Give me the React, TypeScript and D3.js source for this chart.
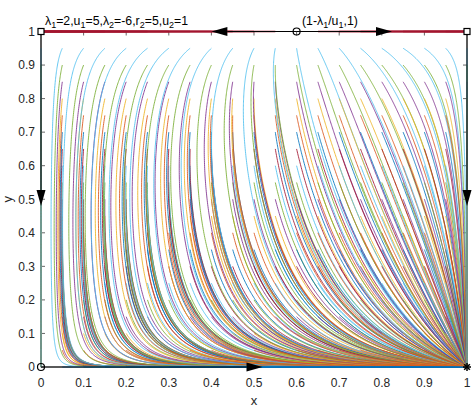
import React, { useMemo } from "react";
import * as d3 from "d3";

// model parameters (from title)
const LAMBDA1 = 2;
const U1 = 5;
const LAMBDA2 = -6;
const R2 = 5;
const U2 = 1;

// initial conditions grid (0:0.05:1)
const X0 = [0, 0.05, 0.1, 0.15, 0.2, 0.25, 0.3, 0.35, 0.4, 0.45, 0.5, 0.55, 0.6, 0.65, 0.7, 0.75, 0.8, 0.85, 0.9, 0.95, 1];
const Y0 = [0, 0.05, 0.1, 0.15, 0.2, 0.25, 0.3, 0.35, 0.4, 0.45, 0.5, 0.55, 0.6, 0.65, 0.7, 0.75, 0.8, 0.85, 0.9, 0.95, 1];

const COLORS = ["#0072BD", "#D95319", "#EDB120", "#7E2F8E", "#77AC30", "#4DBEEE", "#A2142F"];

const X_TICKS = [0, 0.1, 0.2, 0.3, 0.4, 0.5, 0.6, 0.7, 0.8, 0.9, 1];
const Y_TICKS = [0, 0.1, 0.2, 0.3, 0.4, 0.5, 0.6, 0.7, 0.8, 0.9, 1];
const X_TICK_LABELS = ["0", "0.1", "0.2", "0.3", "0.4", "0.5", "0.6", "0.7", "0.8", "0.9", "1"];
const Y_TICK_LABELS = ["0", "0.1", "0.2", "0.3", "0.4", "0.5", "0.6", "0.7", "0.8", "0.9", "1"];

// direction arrows along the boundary: [fromX, fromY, toX, toY]
const ARROWS: [number, number, number, number][] = [
  [0.6, 1, 0.4, 1],
  [0.6, 1, 0.824, 1],
  [0, 0, 0.52, 0],
  [0, 1, 0, 0.48],
  [1, 1, 1, 0.48],
];

// equilibria: [x, y, marker]
const EQUILIBRIA: [number, number, string][] = [
  [0, 1, "square"],
  [1, 1, "square"],
  [0, 0, "circle"],
  [1 - LAMBDA1 / U1, 1, "circle"],
  [1, 0, "star"],
];

const W = 474;
const H = 408;
const FONT = "'Liberation Sans', Arial, Helvetica, sans-serif";
const AX = "#262626";

function f(x: number, y: number): [number, number] {
  const dx = x * (1 - x) * (LAMBDA1 - U1 * (1 - x) * y);
  const dy = y * (1 - y) * (LAMBDA2 + R2 * x - U2);
  return [dx, dy];
}

export default function App() {
  const xs = d3.scaleLinear().domain([0, 1]).range([41, 467]);
  const ys = d3.scaleLinear().domain([0, 1]).range([367, 31.5]);

  const paths = useMemo(() => {
    const out: { d: string; c: string; top: boolean }[] = [];
    let idx = 0;
    for (let i = 0; i < X0.length; i++) {
      for (let j = 0; j < Y0.length; j++) {
        let x = X0[i];
        let y = Y0[j];
        const pts: [number, number][] = [[xs(x), ys(y)]];
        const dt = 0.005;
        for (let s = 0; s < 5000; s++) {
          const k1 = f(x, y);
          const k2 = f(x + (dt / 2) * k1[0], y + (dt / 2) * k1[1]);
          const k3 = f(x + (dt / 2) * k2[0], y + (dt / 2) * k2[1]);
          const k4 = f(x + dt * k3[0], y + dt * k3[1]);
          x += (dt / 6) * (k1[0] + 2 * k2[0] + 2 * k3[0] + k4[0]);
          y += (dt / 6) * (k1[1] + 2 * k2[1] + 2 * k3[1] + k4[1]);
          const px = xs(x);
          const py = ys(y);
          const last = pts[pts.length - 1];
          if (Math.hypot(px - last[0], py - last[1]) > 0.6) pts.push([px, py]);
          if (Math.abs(1 - x) < 1e-4 && y < 1e-4) break;
        }
        pts.push([xs(x), ys(y)]);
        const line = d3.line();
        out.push({ d: line(pts) || "", c: COLORS[idx % COLORS.length], top: Y0[j] === 1 });
        idx++;
      }
    }
    return out;
  }, []);

  const tickLen = 4;
  const [x0p, x1p] = xs.range();
  const [y0p, y1p] = ys.range();

  return (
    <svg width={W} height={H} style={{ position: "absolute", left: 0, top: 0, background: "#fff" }} fontFamily={FONT}>
      <rect x={0} y={0} width={W} height={H} fill="#fff" />
      {/* axes box */}
      <g stroke={AX} strokeWidth={0.7} fill="none">
        <rect x={x0p} y={y1p} width={x1p - x0p} height={y0p - y1p} />
        {X_TICKS.map((t, i) => (
          <g key={"xt" + i}>
            <line x1={xs(t)} x2={xs(t)} y1={y0p} y2={y0p - tickLen} />
            <line x1={xs(t)} x2={xs(t)} y1={y1p} y2={y1p + tickLen} />
          </g>
        ))}
        {Y_TICKS.map((t, i) => (
          <g key={"yt" + i}>
            <line x1={x0p} x2={x0p + tickLen} y1={ys(t)} y2={ys(t)} />
            <line x1={x1p} x2={x1p - tickLen} y1={ys(t)} y2={ys(t)} />
          </g>
        ))}
      </g>
      {/* trajectories */}
      <g fill="none">
        {paths.map((p, i) => (
          <path key={i} d={p.d} stroke={p.c} strokeWidth={p.top ? 1.4 : 0.85} />
        ))}
      </g>
      {/* tick labels */}
      <g fill={AX} fontSize={12}>
        {X_TICKS.map((t, i) => (
          <text key={"xl" + i} x={xs(t)} y={387} textAnchor="middle">{X_TICK_LABELS[i]}</text>
        ))}
        {Y_TICKS.map((t, i) => (
          <text key={"yl" + i} x={35} y={ys(t) + 4.3} textAnchor="end">{Y_TICK_LABELS[i]}</text>
        ))}
        <text x={254} y={405} textAnchor="middle" fontSize={13}>x</text>
        <text transform={`translate(12,${ys(0.5)}) rotate(-90)`} textAnchor="middle" fontSize={13}>y</text>
      </g>
      {/* arrows */}
      <g>
        {ARROWS.map((a, i) => {
          const fx = xs(a[0]), fy = ys(a[1]), tx = xs(a[2]), ty = ys(a[3]);
          const ang = Math.atan2(ty - fy, tx - fx);
          const L = 16, Wd = 4.5;
          const bx = tx - L * Math.cos(ang), by = ty - L * Math.sin(ang);
          const nx = -Math.sin(ang), ny = Math.cos(ang);
          const pts = `${tx},${ty} ${bx + nx * Wd},${by + ny * Wd} ${bx - nx * Wd},${by - ny * Wd}`;
          return (
            <g key={"ar" + i}>
              <line x1={fx} y1={fy} x2={bx} y2={by} stroke="#000" strokeWidth={1} />
              <polygon points={pts} fill="#000" />
            </g>
          );
        })}
      </g>
      {/* equilibria markers */}
      <g stroke="#000" strokeWidth={1.2} fill="none">
        {EQUILIBRIA.map((e, i) => {
          const cx = xs(e[0]), cy = ys(e[1]);
          if (e[2] === "square") return <rect key={"eq" + i} x={cx - 3} y={cy - 3} width={6} height={6} fill="#fff" />;
          if (e[2] === "circle") return <circle key={"eq" + i} cx={cx} cy={cy} r={3.5} />;
          const r = 4;
          return (
            <g key={"eq" + i} strokeWidth={1.5}>
              {[0, 45, 90, 135].map((a) => (
                <line key={a} x1={cx - r * Math.cos((a * Math.PI) / 180)} y1={cy - r * Math.sin((a * Math.PI) / 180)} x2={cx + r * Math.cos((a * Math.PI) / 180)} y2={cy + r * Math.sin((a * Math.PI) / 180)} />
              ))}
            </g>
          );
        })}
      </g>
      {/* annotations */}
      <g fill="#000" fontSize={12.3}>
        <text x={45} y={25}>
          λ<tspan fontSize={9} dy={3}>1</tspan><tspan dy={-3}>=2,u</tspan><tspan fontSize={9} dy={3}>1</tspan><tspan dy={-3}>=5,λ</tspan><tspan fontSize={9} dy={3}>2</tspan><tspan dy={-3}>=-6,r</tspan><tspan fontSize={9} dy={3}>2</tspan><tspan dy={-3}>=5,u</tspan><tspan fontSize={9} dy={3}>2</tspan><tspan dy={-3}>=1</tspan>
        </text>
        <text x={302} y={25}>
          (1-λ<tspan fontSize={9} dy={3}>1</tspan><tspan dy={-3}>/u</tspan><tspan fontSize={9} dy={3}>1</tspan><tspan dy={-3}>,1)</tspan>
        </text>
      </g>
    </svg>
  );
}
